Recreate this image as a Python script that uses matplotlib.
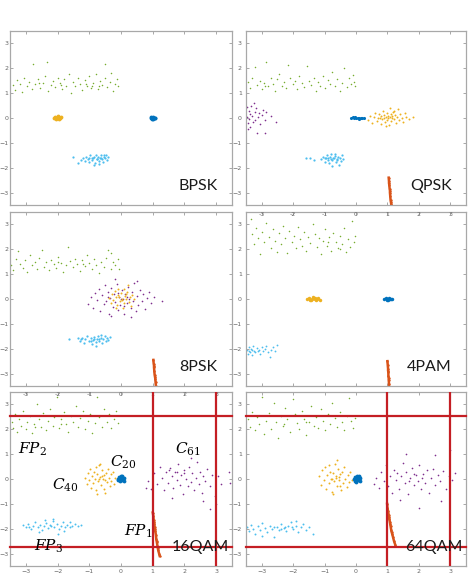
import matplotlib.pyplot as plt

plt.rcParams['mathtext.fontset'] = 'dejavuserif'

# MATLAB default colour order
C20_COL = '#0072BD'
FP1_COL = '#D95319'
C40_COL = '#EDB120'
C61_COL = '#7E2F8E'
FP2_COL = '#77AC30'
FP3_COL = '#4DBEEE'
LINE_COL = '#C41E24'

titles = ['BPSK', 'QPSK', '8PSK', '4PAM', '16QAM', '64QAM']
ticks = [-3, -2, -1, 0, 1, 2, 3]

# ---------------- BPSK ----------------
bpsk_fp2 = [(-3.42, 1.31), (-3.35, 1.12), (-3.28, 1.52), (-3.2, 1.38), (-3.11, 1.05), (-3.05, 1.62),
            (-2.97, 1.27), (-2.9, 1.44), (-2.82, 1.15), (-2.76, 2.17), (-2.7, 1.35), (-2.62, 1.58),
            (-2.55, 1.22), (-2.47, 1.41), (-2.4, 1.7), (-2.34, 2.25), (-2.3, 1.08), (-2.22, 1.33),
            (-2.15, 1.5), (-2.08, 1.25), (-2.0, 1.62), (-1.93, 1.4), (-1.85, 1.18), (-1.8, 1.55),
            (-1.72, 1.3), (-1.65, 1.75), (-1.58, 1.02), (-1.5, 1.45), (-1.44, 1.28), (-1.37, 1.6),
            (-1.3, 1.36), (-1.22, 1.12), (-1.15, 1.52), (-1.08, 1.3), (-1.0, 1.68), (-0.94, 1.22),
            (-0.88, 1.42), (-0.8, 1.78), (-0.74, 1.15), (-0.67, 1.5), (-0.6, 1.33), (-0.52, 2.17),
            (-0.5, 1.62), (-0.43, 1.25), (-0.36, 1.46), (-0.3, 1.8), (-0.24, 1.1), (-0.18, 1.38),
            (-0.12, 1.58), (-0.1, 1.28), (-1.9, 1.32), (-1.1, 1.35), (-0.7, 1.3), (-2.6, 1.4), (-0.9, 1.3)]
bpsk_c40 = [(-2.08, 0.02), (-2.0, 0.07), (-1.93, 0.0), (-2.04, -0.05), (-1.96, -0.04), (-1.9, 0.05),
            (-2.1, -0.01), (-1.98, 0.03)]
bpsk_c20 = [(0.95, 0.0), (1.0, 0.05), (1.06, 0.01), (1.02, -0.04), (0.98, -0.03), (1.08, -0.02), (0.93, 0.02)]
bpsk_fp3 = [(-1.52, -1.55), (-1.35, -1.82), (-1.25, -1.68), (-1.2, -1.6), (-1.15, -1.72), (-1.1, -1.55),
            (-1.05, -1.65), (-1.0, -1.78), (-0.97, -1.5), (-0.93, -1.62), (-0.9, -1.7), (-0.86, -1.56),
            (-0.82, -1.8), (-0.8, -1.48), (-0.77, -1.64), (-0.73, -1.55), (-0.7, -1.72), (-0.67, -1.6),
            (-0.64, -1.5), (-0.6, -1.66), (-0.57, -1.78), (-0.54, -1.55), (-0.5, -1.62), (-0.47, -1.48),
            (-0.44, -1.7), (-0.42, -1.58), (-0.88, -1.62), (-0.75, -1.66), (-0.62, -1.6), (-1.0, -1.6),
            (-0.7, -1.85), (-0.85, -1.88), (-0.55, -1.5)]

# ---------------- QPSK ----------------
qpsk_fp2 = [(-3.45, 1.45), (-3.38, 1.2), (-3.3, 1.62), (-3.22, 2.05), (-3.15, 1.33), (-3.07, 1.5),
            (-3.0, 1.15), (-2.93, 1.42), (-2.85, 2.25), (-2.8, 1.28), (-2.72, 1.6), (-2.65, 1.38),
            (-2.58, 1.1), (-2.5, 1.55), (-2.44, 1.75), (-2.37, 1.3), (-2.3, 1.45), (-2.22, 1.22),
            (-2.15, 2.12), (-2.1, 1.6), (-2.02, 1.35), (-1.95, 1.48), (-1.88, 1.15), (-1.8, 1.7),
            (-1.73, 1.4), (-1.65, 1.25), (-1.57, 2.08), (-1.5, 1.5), (-1.43, 1.32), (-1.35, 1.62),
            (-1.28, 1.08), (-1.2, 1.45), (-1.13, 1.3), (-1.05, 1.7), (-0.98, 1.2), (-0.9, 1.52),
            (-0.83, 1.38), (-0.75, 1.85), (-0.68, 1.28), (-0.6, 1.55), (-0.52, 1.1), (-0.45, 1.4),
            (-0.38, 2.0), (-0.3, 1.25), (-0.22, 1.6), (-0.15, 1.35), (-0.08, 1.72), (-0.02, 1.3),
            (-0.05, 1.45), (-2.9, 1.3)]
qpsk_c61 = [(-3.48, 0.05), (-3.45, -0.2), (-3.42, 0.3), (-3.4, -0.05), (-3.38, 0.15), (-3.36, -0.35),
            (-3.33, 0.5), (-3.3, 0.1), (-3.28, -0.15), (-3.25, 0.62), (-3.22, 0.25), (-3.2, -0.1),
            (-3.17, 0.4), (-3.15, -0.6), (-3.12, 0.05), (-3.08, 0.2), (-3.05, -0.25), (-3.0, 0.12),
            (-2.95, 0.33), (-2.9, -0.08), (-2.85, 0.25), (-2.72, 0.08), (-2.55, -0.18), (-2.9, -0.62),
            (-3.46, 0.45), (-3.44, -0.45)]
qpsk_c20 = [(-0.15, 0.0), (-0.1, 0.02), (-0.05, -0.01), (0.0, 0.01), (0.05, -0.02), (0.1, 0.0),
            (0.15, 0.01), (0.2, -0.01), (0.25, 0.0), (-0.02, 0.04), (0.08, -0.04)]
qpsk_c40 = [(0.38, -0.08), (0.45, 0.1), (0.52, -0.2), (0.58, 0.05), (0.62, 0.22), (0.66, -0.12), (0.7, 0.0),
            (0.74, 0.15), (0.78, -0.25), (0.8, 0.08), (0.84, -0.05), (0.87, 0.3), (0.9, 0.12), (0.93, -0.15),
            (0.96, 0.02), (0.98, 0.2), (1.0, -0.08), (1.03, 0.1), (1.05, -0.28), (1.07, 0.05), (1.1, 0.18),
            (1.12, -0.12), (1.15, 0.0), (1.18, 0.25), (1.2, -0.06), (1.24, 0.12), (1.27, -0.2), (1.3, 0.05),
            (1.34, 0.35), (1.37, -0.1), (1.4, 0.15), (1.45, 0.0), (1.5, -0.18), (1.55, 0.2), (1.6, 0.05),
            (1.68, -0.05), (1.8, 0.02), (0.95, -0.32), (1.08, 0.4), (1.22, 0.3), (0.88, 0.0), (1.02, 0.0),
            (1.16, 0.1), (0.76, -0.02)]
qpsk_fp3 = [(-1.6, -1.6), (-1.45, -1.62), (-1.35, -1.68), (-1.1, -1.65), (-1.05, -1.55), (-1.0, -1.75),
            (-0.96, -1.6), (-0.92, -1.5), (-0.88, -1.68), (-0.85, -1.82), (-0.82, -1.58), (-0.78, -1.45),
            (-0.75, -1.7), (-0.72, -1.62), (-0.68, -1.52), (-0.65, -1.78), (-0.62, -1.65), (-0.58, -1.55),
            (-0.55, -1.88), (-0.52, -1.6), (-0.48, -1.72), (-0.45, -1.5), (-0.42, -1.66), (-0.8, -1.65),
            (-0.7, -1.6), (-0.9, -1.6), (-0.6, -1.7), (-0.75, -1.92), (-1.0, -1.62), (-0.66, -1.45)]
qpsk_fp1 = [(1.04, -2.4), (1.05, -2.55), (1.06, -2.7), (1.07, -2.85), (1.08, -3.0), (1.09, -3.15),
            (1.1, -3.3), (1.12, -3.45), (1.13, -3.6), (1.05, -2.62), (1.08, -2.92), (1.11, -3.38)]

# ---------------- 8PSK ----------------
psk8_fp2 = [(-3.48, 1.35), (-3.4, 1.15), (-3.32, 1.6), (-3.25, 1.92), (-3.18, 1.42), (-3.1, 1.25),
            (-3.02, 1.55), (-2.95, 1.1), (-2.88, 1.75), (-2.8, 1.38), (-2.72, 1.5), (-2.65, 1.2),
            (-2.57, 1.65), (-2.5, 1.98), (-2.42, 1.3), (-2.35, 1.48), (-2.28, 1.15), (-2.2, 1.58),
            (-2.12, 1.4), (-2.05, 1.25), (-1.98, 1.7), (-1.9, 1.45), (-1.82, 1.08), (-1.75, 1.35),
            (-1.68, 2.1), (-1.6, 1.52), (-1.52, 1.28), (-1.45, 1.62), (-1.38, 1.4), (-1.3, 1.12),
            (-1.22, 1.55), (-1.15, 1.32), (-1.08, 1.78), (-1.0, 1.45), (-0.92, 1.2), (-0.85, 1.6),
            (-0.78, 1.38), (-0.7, 1.05), (-0.63, 1.5), (-0.55, 1.3), (-0.48, 1.65), (-0.4, 1.98),
            (-0.33, 1.22), (-0.25, 1.48), (-0.18, 1.35), (-0.1, 1.6), (-0.06, 1.2), (-0.3, 1.85),
            (-2.0, 1.48), (-1.2, 1.42)]
psk8_c61 = [(-1.05, -0.2), (-0.95, 0.1), (-0.88, -0.35), (-0.82, 0.25), (-0.75, -0.05), (-0.7, 0.4),
            (-0.65, -0.5), (-0.6, 0.15), (-0.55, -0.22), (-0.5, 0.55), (-0.46, -0.1), (-0.42, 0.3),
            (-0.38, -0.6), (-0.34, 0.05), (-0.3, 0.45), (-0.26, -0.32), (-0.22, 0.2), (-0.18, -0.12),
            (-0.14, 0.62), (-0.1, -0.45), (-0.06, 0.1), (-0.02, -0.25), (0.02, 0.35), (0.06, -0.02),
            (0.1, -0.6), (0.14, 0.22), (0.18, -0.15), (0.22, 0.5), (0.26, 0.02), (0.3, -0.38),
            (0.34, 0.28), (0.38, -0.08), (0.42, 0.65), (0.46, -0.5), (0.5, 0.12), (0.55, -0.25),
            (0.6, 0.38), (0.65, -0.1), (0.7, 0.2), (0.76, -0.4), (0.82, 0.05), (0.88, 0.3), (0.95, -0.18),
            (1.05, 0.1), (1.28, -0.1), (-0.2, 0.8), (0.5, 0.72), (-0.3, -0.7), (0.3, -0.72), (0.0, 0.0),
            (-0.4, 0.1), (0.2, 0.1), (-0.1, 0.25), (0.1, -0.3)]
psk8_c40 = [(-0.38, 0.05), (-0.32, -0.15), (-0.28, 0.2), (-0.24, -0.05), (-0.2, 0.32), (-0.16, 0.1),
            (-0.12, -0.25), (-0.08, 0.15), (-0.04, -0.08), (0.0, 0.25), (0.04, 0.02), (0.08, -0.18),
            (0.12, 0.12), (0.16, -0.02), (0.2, 0.3), (0.24, -0.12), (0.28, 0.08), (0.32, -0.3), (0.36, 0.18),
            (0.4, 0.0), (-0.1, 0.42), (0.1, 0.4), (0.05, -0.35), (-0.15, -0.38), (0.22, 0.55), (-0.05, 0.08),
            (0.02, -0.05), (0.15, 0.2)]
psk8_fp3 = [(-1.65, -1.62), (-1.35, -1.58), (-1.3, -1.68), (-1.22, -1.55), (-1.18, -1.75), (-1.12, -1.62),
            (-1.06, -1.5), (-1.0, -1.7), (-0.96, -1.58), (-0.92, -1.82), (-0.88, -1.65), (-0.84, -1.52),
            (-0.8, -1.72), (-0.76, -1.6), (-0.72, -1.48), (-0.68, -1.68), (-0.64, -1.56), (-0.6, -1.78),
            (-0.56, -1.62), (-0.52, -1.5), (-0.48, -1.7), (-0.44, -1.58), (-0.4, -1.65), (-0.36, -1.52),
            (-0.85, -1.6), (-0.7, -1.62), (-0.78, -1.88), (-0.62, -1.45), (-0.95, -1.7), (-1.25, -1.62)]
psk8_fp1 = [(1.02, -2.45), (1.03, -2.6), (1.04, -2.75), (1.05, -2.9), (1.06, -3.05), (1.08, -3.2),
            (1.09, -3.35), (1.1, -3.5), (1.04, -2.68), (1.07, -3.12)]

# ---------------- 4PAM ----------------
pam4_fp2 = [(-3.35, 3.2), (-3.3, 2.6), (-3.25, 2.2), (-3.18, 2.85), (-3.12, 2.45), (-3.05, 1.8), (-2.98, 2.7),
            (-2.92, 2.3), (-2.85, 3.05), (-2.78, 2.5), (-2.72, 2.05), (-2.65, 2.8), (-2.58, 2.35),
            (-2.52, 1.9), (-2.45, 2.65), (-2.38, 2.2), (-2.32, 2.95), (-2.25, 2.45), (-2.18, 1.85),
            (-2.12, 2.75), (-2.05, 2.3), (-1.98, 2.55), (-1.92, 2.05), (-1.85, 2.9), (-1.78, 2.4),
            (-1.72, 2.15), (-1.65, 2.7), (-1.58, 1.95), (-1.52, 2.5), (-1.45, 2.25), (-1.38, 3.0),
            (-1.32, 2.6), (-1.25, 2.1), (-1.18, 2.45), (-1.12, 1.8), (-1.05, 2.35), (-0.98, 2.8),
            (-0.92, 2.15), (-0.85, 2.5), (-0.78, 1.95), (-0.72, 2.65), (-0.65, 2.3), (-0.58, 2.05),
            (-0.52, 2.55), (-0.45, 2.2), (-0.38, 2.85), (-0.32, 1.9), (-0.25, 2.4), (-0.18, 2.1),
            (-0.12, 3.15), (-0.06, 2.3), (-0.02, 2.55), (-0.5, 2.0), (-0.9, 2.3)]
pam4_c40 = [(-1.55, -0.02), (-1.48, 0.05), (-1.42, -0.06), (-1.38, 0.1), (-1.32, 0.0), (-1.26, -0.05),
            (-1.2, 0.04), (-1.15, -0.03), (-1.4, 0.02), (-1.3, 0.06), (-1.45, -0.04), (-1.25, 0.02)]
pam4_c20 = [(0.9, 0.0), (0.95, 0.04), (1.0, -0.03), (1.05, 0.03), (1.1, -0.02), (1.15, 0.01), (0.98, 0.02),
            (1.08, 0.0), (1.02, -0.05)]
pam4_fp3 = [(-3.48, -2.05), (-3.45, -2.2), (-3.42, -1.95), (-3.38, -2.12), (-3.35, -2.0), (-3.3, -2.25),
            (-3.27, -1.9), (-3.23, -2.08), (-3.2, -2.15), (-3.15, -1.98), (-3.1, -2.05), (-3.05, -2.22),
            (-3.0, -1.92), (-2.95, -2.1), (-2.9, -2.0), (-2.85, -1.88), (-2.8, -2.12), (-2.72, -2.05),
            (-2.65, -1.95), (-2.58, -2.1), (-2.5, -1.85), (-2.75, -2.35), (-3.4, -2.1), (-3.32, -2.05),
            (-3.12, -2.1)]
pam4_fp1 = [(1.0, -2.5), (1.01, -2.65), (1.02, -2.8), (1.03, -2.95), (1.03, -3.1), (1.04, -3.25),
            (1.05, -3.4), (1.05, -3.55), (1.02, -2.88), (1.04, -3.18)]

# ---------------- 16QAM ----------------
qam16_fp2 = [(-3.45, 2.3), (-3.4, 2.05), (-3.35, 2.6), (-3.28, 1.9), (-3.22, 2.4), (-3.15, 2.15),
             (-3.08, 2.75), (-3.0, 2.0), (-2.95, 2.3), (-2.88, 2.55), (-2.8, 1.85), (-2.73, 2.2),
             (-2.66, 3.0), (-2.6, 2.4), (-2.52, 2.1), (-2.45, 2.65), (-2.38, 1.95), (-2.3, 2.35),
             (-2.23, 2.8), (-2.16, 2.15), (-2.1, 2.5), (-2.02, 3.3), (-1.95, 2.05), (-1.88, 2.4),
             (-1.8, 2.7), (-1.73, 2.2), (-1.66, 1.9), (-1.58, 2.55), (-1.5, 2.3), (-1.43, 2.95),
             (-1.36, 2.1), (-1.28, 2.45), (-1.2, 2.75), (-1.13, 2.0), (-1.05, 2.35), (-0.98, 2.6),
             (-0.9, 1.85), (-0.83, 2.25), (-0.76, 3.3), (-0.68, 2.5), (-0.6, 2.1), (-0.53, 2.8),
             (-0.45, 2.3), (-0.38, 2.6), (-0.3, 2.05), (-0.22, 2.4), (-0.15, 2.75), (-0.08, 2.25),
             (-2.7, 2.1), (-1.9, 2.2)]
qam16_c40 = [(-1.12, 0.05), (-1.08, -0.2), (-1.05, 0.25), (-1.0, -0.05), (-0.97, 0.4), (-0.94, -0.35),
             (-0.9, 0.12), (-0.87, -0.15), (-0.84, 0.3), (-0.81, 0.0), (-0.78, -0.45), (-0.75, 0.2),
             (-0.72, -0.08), (-0.69, 0.55), (-0.66, 0.08), (-0.63, -0.25), (-0.6, 0.35), (-0.57, -0.02),
             (-0.54, 0.15), (-0.51, -0.55), (-0.48, 0.25), (-0.45, -0.12), (-0.42, 0.42), (-0.39, 0.02),
             (-0.36, -0.3), (-0.33, 0.18), (-0.3, -0.1), (-0.26, 0.3), (-0.22, -0.2), (-0.18, 0.05),
             (-0.65, 0.62), (-0.75, -0.6), (-0.55, -0.4), (-0.8, 0.48), (-0.7, 0.0), (-0.6, 0.1), (-0.5, -0.05)]
qam16_c20 = [(-0.1, 0.0), (-0.06, 0.08), (-0.04, -0.08), (0.0, 0.1), (0.02, -0.05), (0.06, 0.05),
             (0.08, -0.1), (0.1, 0.02), (0.0, 0.0), (-0.08, -0.04), (0.04, 0.12)]
qam16_c61 = [(0.78, -0.35), (0.85, -0.1), (0.95, -0.4), (1.05, 0.25), (1.15, -0.2), (1.22, 0.5), (1.3, 0.05),
             (1.36, -0.45), (1.42, 0.3), (1.48, -0.15), (1.55, 0.45), (1.6, 0.1), (1.65, -0.35), (1.7, 0.28),
             (1.75, -0.05), (1.8, 0.6), (1.85, -0.25), (1.9, 0.15), (1.95, -0.6), (2.0, 0.35), (2.05, 0.0),
             (2.1, -0.3), (2.15, 0.5), (2.2, -0.12), (2.25, 0.22), (2.3, -0.45), (2.35, 0.05), (2.4, 0.7),
             (2.45, -0.2), (2.5, 0.3), (2.55, -0.55), (2.6, 0.12), (2.65, -0.08), (2.72, 0.4), (2.8, -0.3),
             (2.88, 0.15), (2.95, -0.7), (3.05, 0.1), (3.15, -0.2), (3.4, 0.3), (3.45, -0.15), (2.2, 0.85),
             (2.8, -1.2), (1.6, -0.75), (2.6, -0.9), (1.75, 0.3), (1.5, 0.35), (2.0, 0.25), (3.0, -1.0)]
qam16_fp3 = [(-3.08, -1.85), (-3.0, -1.95), (-2.92, -1.8), (-2.85, -2.0), (-2.78, -1.88), (-2.7, -1.75),
             (-2.63, -1.95), (-2.56, -1.85), (-2.5, -2.05), (-2.43, -1.9), (-2.36, -1.78), (-2.3, -1.98),
             (-2.23, -1.85), (-2.16, -1.7), (-2.1, -1.92), (-2.03, -1.82), (-1.96, -2.0), (-1.9, -1.88),
             (-1.83, -1.75), (-1.76, -1.95), (-1.7, -1.85), (-1.62, -1.72), (-1.55, -1.9), (-1.45, -1.82),
             (-1.35, -1.88), (-1.26, -1.85), (-2.4, -1.65), (-2.0, -2.2), (-2.6, -2.15), (-1.8, -2.1),
             (-2.2, -1.9), (-2.9, -1.92), (-1.6, -1.95), (-2.15, -1.6)]
qam16_fp1 = [(1.0, -1.35), (1.02, -1.5), (1.03, -1.65), (1.05, -1.8), (1.06, -1.95), (1.08, -2.1),
             (1.1, -2.25), (1.11, -2.4), (1.13, -2.55), (1.15, -2.7), (1.17, -2.85), (1.2, -3.0),
             (1.22, -3.1), (1.04, -1.72), (1.07, -2.02), (1.12, -2.48), (1.16, -2.78)]

# ---------------- 64QAM ----------------
qam64_fp2 = [(-3.45, 2.4), (-3.38, 2.1), (-3.3, 2.7), (-3.22, 1.95), (-3.15, 2.5), (-3.08, 2.2),
             (-3.0, 3.3), (-2.92, 1.8), (-2.85, 2.35), (-2.78, 2.65), (-2.7, 2.0), (-2.62, 3.05),
             (-2.55, 2.3), (-2.48, 1.65), (-2.4, 2.55), (-2.32, 2.15), (-2.25, 2.85), (-2.18, 2.4),
             (-2.1, 1.9), (-2.02, 3.2), (-1.95, 2.6), (-1.88, 2.25), (-1.8, 2.0), (-1.72, 2.75),
             (-1.65, 2.4), (-1.58, 1.75), (-1.5, 2.3), (-1.42, 2.95), (-1.35, 2.15), (-1.28, 2.5),
             (-1.2, 2.05), (-1.12, 2.8), (-1.05, 2.35), (-0.98, 1.95), (-0.9, 2.6), (-0.82, 2.2),
             (-0.75, 3.05), (-0.68, 2.45), (-0.6, 2.1), (-0.52, 2.7), (-0.45, 2.3), (-0.38, 1.95),
             (-0.3, 2.55), (-0.22, 3.25), (-0.15, 2.35), (-0.08, 2.05), (-0.02, 2.45), (-1.6, 2.3), (-2.3, 2.2)]
qam64_c40 = [(-1.18, 0.1), (-1.12, -0.25), (-1.08, 0.35), (-1.03, -0.05), (-0.99, 0.5), (-0.95, -0.4),
             (-0.91, 0.15), (-0.87, -0.15), (-0.83, 0.3), (-0.8, -0.02), (-0.77, -0.52), (-0.73, 0.22),
             (-0.7, -0.1), (-0.67, 0.62), (-0.64, 0.05), (-0.61, -0.28), (-0.58, 0.4), (-0.55, -0.05),
             (-0.52, 0.2), (-0.48, -0.45), (-0.45, 0.3), (-0.41, -0.15), (-0.38, 0.48), (-0.34, 0.0),
             (-0.3, -0.32), (-0.26, 0.15), (-0.22, -0.12), (-0.18, 0.28), (-0.14, -0.05), (-0.6, 0.78),
             (-0.72, -0.62), (-0.5, -0.3), (-0.85, 0.55), (-0.65, 0.1), (-0.55, 0.08), (-0.75, 0.0)]
qam64_c20 = [(-0.06, 0.0), (-0.03, 0.09), (-0.02, -0.09), (0.02, 0.12), (0.05, -0.06), (0.08, 0.06),
             (0.12, -0.08), (0.14, 0.02), (0.04, 0.0), (0.0, -0.12), (0.1, 0.1)]
qam64_c61 = [(0.58, -0.2), (0.65, 0.05), (0.72, -0.38), (0.8, 0.3), (0.88, -0.1), (0.95, 0.55), (1.02, -0.3),
             (1.08, 0.12), (1.15, -0.55), (1.2, 0.38), (1.26, -0.05), (1.32, 0.25), (1.38, -0.4), (1.44, 0.1),
             (1.5, 0.65), (1.55, -0.18), (1.6, 0.3), (1.66, -0.62), (1.72, 0.02), (1.78, 0.45), (1.84, -0.25),
             (1.9, 0.15), (1.96, -0.08), (2.02, 0.55), (2.08, -0.4), (2.14, 0.2), (2.2, -0.15), (2.26, 0.35),
             (2.32, -0.55), (2.38, 0.05), (2.45, 0.42), (2.52, -0.25), (2.6, 0.15), (2.68, -0.1), (2.76, 0.32),
             (2.85, -0.4), (2.95, 0.1), (3.05, -0.05), (3.15, 0.25), (1.6, 1.0), (2.5, 0.95), (3.0, 1.15),
             (2.0, -1.15), (1.4, -0.85), (2.7, -0.9), (1.85, 0.2), (1.7, -0.1), (2.1, 0.05)]
qam64_fp3 = [(-3.48, -1.95), (-3.42, -2.1), (-3.35, -1.85), (-3.28, -2.0), (-3.2, -2.2), (-3.12, -1.9),
             (-3.05, -2.05), (-2.98, -1.78), (-2.9, -1.98), (-2.82, -2.15), (-2.75, -1.88), (-2.68, -2.0),
             (-2.6, -2.35), (-2.52, -1.92), (-2.45, -2.05), (-2.38, -1.8), (-2.3, -1.98), (-2.22, -2.1),
             (-2.15, -1.9), (-2.08, -1.72), (-2.0, -2.02), (-1.92, -1.88), (-1.85, -2.12), (-1.76, -1.95),
             (-1.68, -1.8), (-1.6, -2.05), (-1.5, -1.92), (-1.38, -2.2), (-2.25, -1.95), (-2.4, -2.0),
             (-2.05, -1.95), (-2.6, -1.95), (-3.0, -2.3), (-1.9, -1.7)]
qam64_fp1 = [(0.99, -1.0), (1.0, -1.15), (1.02, -1.3), (1.04, -1.45), (1.06, -1.6), (1.08, -1.75),
             (1.1, -1.9), (1.12, -2.05), (1.15, -2.2), (1.18, -2.35), (1.21, -2.5), (1.25, -2.65),
             (1.05, -1.52), (1.09, -1.82), (1.13, -2.12)]

# threshold lines drawn on the QAM panels
vlines = [1, 3]
hlines = [2.55, -2.72]

# (points, colour, marker size)
clusters = [
    [(bpsk_fp2, FP2_COL, 2.2), (bpsk_fp3, FP3_COL, 3.2), (bpsk_c40, C40_COL, 5.5), (bpsk_c20, C20_COL, 5.5)],
    [(qpsk_fp2, FP2_COL, 2.2), (qpsk_c61, C61_COL, 2.4), (qpsk_fp3, FP3_COL, 3.2), (qpsk_c40, C40_COL, 2.8),
     (qpsk_c20, C20_COL, 4.5)],
    [(psk8_fp2, FP2_COL, 2.2), (psk8_fp3, FP3_COL, 3.2), (psk8_c61, C61_COL, 2.4), (psk8_c40, C40_COL, 2.8)],
    [(pam4_fp2, FP2_COL, 2.2), (pam4_fp3, FP3_COL, 2.6), (pam4_c40, C40_COL, 5.0), (pam4_c20, C20_COL, 5.0)],
    [(qam16_fp2, FP2_COL, 2.2), (qam16_fp3, FP3_COL, 2.8), (qam16_c40, C40_COL, 2.8), (qam16_c61, C61_COL, 2.4),
     (qam16_c20, C20_COL, 5.5)],
    [(qam64_fp2, FP2_COL, 2.2), (qam64_fp3, FP3_COL, 2.8), (qam64_c40, C40_COL, 2.8), (qam64_c61, C61_COL, 2.4),
     (qam64_c20, C20_COL, 5.5)],
]
# narrow FP1 streaks (none visible for BPSK)
streaks = [None, qpsk_fp1, psk8_fp1, pam4_fp1, qam16_fp1, qam64_fp1]

# panel rectangles in figure fractions
col_x = [0.0211, 0.519]
col_w = [0.4684, 0.4641]
row_y = [0.6447, 0.331, 0.0191]
row_h = 0.3016

fig = plt.figure(figsize=(4.74, 5.77), dpi=100)
axes = []
for i in range(6):
    r, c = divmod(i, 2)
    ax = fig.add_axes([col_x[c], row_y[r], col_w[c], row_h])
    axes.append(ax)

    for pts, col, ms in clusters[i]:
        xs, ys = zip(*pts)
        ax.plot(xs, ys, '.', color=col, markersize=ms, markeredgewidth=0)
    if streaks[i]:
        pts = sorted(streaks[i], key=lambda p: -p[1])
        xs, ys = zip(*pts)
        ax.plot(xs, ys, '.-', color=FP1_COL, lw=1.8, markersize=3.5, markeredgewidth=0)

    ax.set_xlim(-3.5, 3.5)
    ax.set_ylim(-3.5, 3.5)
    ax.set_xticks(ticks)
    ax.set_yticks(ticks)
    ax.tick_params(direction='in', length=2.5, width=0.6, color='#9a9a9a', top=True, right=True,
                   labelsize=4.5, labelcolor='#666666', pad=1.0 if c == 0 else 3)
    ax.tick_params(axis='x', pad=2)
    if r < 2:
        ax.set_xticklabels([])
    for s in ax.spines.values():
        s.set_color('#a8a8a8')
        s.set_linewidth(0.9)

    ax.text(3.05 if r < 2 else 3.4, -2.72, titles[i], ha='right', va='center',
            fontsize=11.5, family='Lato', color='#1a1a1a', zorder=5)

# x labels that show inside the top edge of 4PAM and 16QAM
for ax in [axes[3], axes[4]]:
    for t in ticks:
        ax.text(t, 0.998, str(t), transform=ax.get_xaxis_transform(), ha='center', va='top',
                fontsize=4.5, color='#666666')

# red decision lines on the QAM panels
for ax in axes[4:]:
    for v in vlines:
        ax.axvline(v, color=LINE_COL, lw=1.6, zorder=4)
    for h in hlines:
        ax.axhline(h, color=LINE_COL, lw=1.6, zorder=4, clip_on=False)

# feature labels on the 16QAM panel
ax = axes[4]
ax.text(-2.8, 1.2, r'$FP_2$', fontsize=11, ha='center', va='center')
ax.text(-2.3, -2.72, r'$FP_3$', fontsize=11, ha='center', va='center', zorder=6)
ax.text(0.55, -2.1, r'$FP_1$', fontsize=11, ha='center', va='center')
ax.text(-1.75, -0.27, r'$C_{40}$', fontsize=11, ha='center', va='center')
ax.text(0.07, 0.66, r'$C_{20}$', fontsize=11, ha='center', va='center')
ax.text(2.12, 1.18, r'$C_{61}$', fontsize=11, ha='center', va='center')

fig.savefig('out.png', dpi=100)
